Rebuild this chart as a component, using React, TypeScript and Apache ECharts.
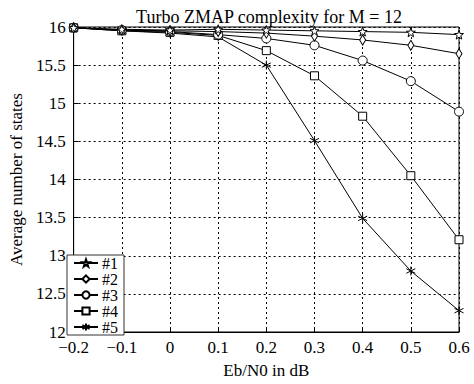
import React, { useEffect, useRef } from "react";
import * as echarts from "echarts";

const xValues = [-0.2, -0.1, 0, 0.1, 0.2, 0.3, 0.4, 0.5, 0.6];
const seriesNames = ["#1", "#2", "#3", "#4", "#5"];
const s1 = [15.99, 15.97, 15.96, 15.97, 15.96, 15.95, 15.94, 15.93, 15.9];
const s2 = [15.99, 15.96, 15.95, 15.94, 15.92, 15.88, 15.83, 15.76, 15.65];
const s3 = [15.99, 15.96, 15.94, 15.9, 15.85, 15.76, 15.56, 15.29, 14.89];
const s4 = [15.99, 15.95, 15.93, 15.89, 15.69, 15.36, 14.83, 14.05, 13.21];
const s5 = [15.99, 15.95, 15.92, 15.87, 15.5, 14.51, 13.49, 12.8, 12.28];

const FONT = "Liberation Serif";
const STAR =
  "path://M0,-10 L2.35,-3.24 L9.51,-3.09 L3.8,1.24 L5.88,8.09 L0,4 L-5.88,8.09 L-3.8,1.24 L-9.51,-3.09 L-2.35,-3.24 Z";
const ASTER = "path://M0,-10 L0,10 M-9,-5 L9,5 M-9,5 L9,-5";
const DIAMOND = "path://M0,-10 L5,0 L0,10 L-5,0 Z";

export default function App() {
  const ref = useRef<HTMLDivElement>(null);
  useEffect(() => {
    if (!ref.current) return;
    const chart = echarts.init(ref.current, null, { renderer: "svg" });
    const all = [s1, s2, s3, s4, s5];
    const symbols = [STAR, DIAMOND, "circle", "rect", ASTER];
    const sizes = [9, [6, 10], 9, 8, 9];
    chart.setOption({
      animation: false,
      backgroundColor: "#fff",
      title: {
        text: "Turbo ZMAP complexity for M = 12",
        left: 264,
        textAlign: "center",
        top: 3,
        textStyle: { fontFamily: FONT, fontSize: 18, fontWeight: "normal", color: "#000" },
      },
      grid: {
        left: 61,
        right: 15,
        top: 27,
        bottom: 45,
        show: true,
        borderColor: "#000",
        borderWidth: 1,
        backgroundColor: "transparent",
      },
      legend: {
        orient: "vertical",
        left: 67,
        top: 255,
        itemWidth: 24,
        itemHeight: 9,
        itemGap: 0,
        padding: [0, 6, 0, 6],
        borderColor: "#333",
        borderWidth: 1,
        backgroundColor: "#fff",
        data: seriesNames,
        textStyle: { fontFamily: FONT, fontSize: 16, color: "#000", padding: [0, 0, 0, -1] },
      },
      xAxis: {
        type: "value",
        min: -0.2,
        max: 0.6,
        interval: 0.1,
        name: "Eb/N0 in dB",
        nameLocation: "middle",
        nameGap: 30,
        nameTextStyle: { fontFamily: FONT, fontSize: 17, color: "#000" },
        axisLine: { onZero: false, lineStyle: { color: "#000" } },
        axisTick: { inside: true, length: 5, lineStyle: { color: "#000" } },
        axisLabel: {
          fontFamily: FONT,
          fontSize: 17,
          color: "#000",
          margin: 7,
          formatter: (v: number) => {
            const r = Math.round(v * 10) / 10;
            return r < 0 ? "\u2212" + String(-r) : String(r);
          },
        },
        splitLine: { show: true, lineStyle: { color: "#000", type: [2, 3], width: 1 } },
      },
      yAxis: {
        type: "value",
        min: 12,
        max: 16,
        interval: 0.5,
        name: "Average number of states",
        nameLocation: "middle",
        nameGap: 46,
        nameTextStyle: { fontFamily: FONT, fontSize: 17, color: "#000" },
        axisLine: { show: true, onZero: false, lineStyle: { color: "#000" } },
        axisTick: { show: true, inside: true, length: 5, lineStyle: { color: "#000" } },
        axisLabel: { fontFamily: FONT, fontSize: 17, color: "#000", margin: 8 },
        splitLine: { show: true, lineStyle: { color: "#000", type: [2, 3], width: 1 } },
      },
      series: all.map((d, i) => ({
        name: seriesNames[i],
        type: "line",
        data: xValues.map((x, j) => [x, d[j]]),
        symbol: symbols[i],
        symbolSize: sizes[i],
        showAllSymbol: true,
        lineStyle: { color: "#000", width: 1 },
        itemStyle: { color: "#fff", borderColor: "#000", borderWidth: 1 },
        z: 10 - i,
      })),
    });
    return () => chart.dispose();
  }, []);
  return (
    <div
      ref={ref}
      style={{ position: "absolute", left: 0, top: 0, width: 474, height: 384, overflow: "hidden" }}
    />
  );
}
